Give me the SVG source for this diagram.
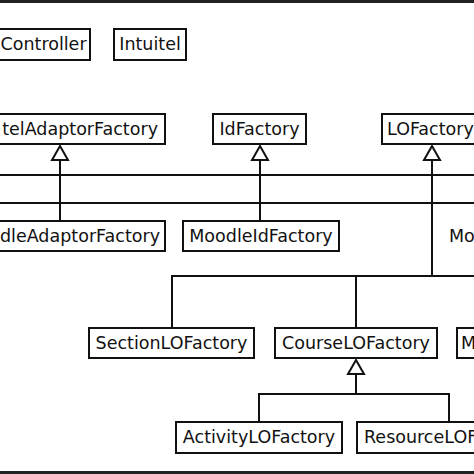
<svg xmlns="http://www.w3.org/2000/svg" width="474" height="474" viewBox="0 0 474 474">
<style>
.box{fill:#fff;stroke:#111;stroke-width:2}
.t{font-family:"DejaVu Sans",sans-serif;font-size:17.5px;fill:#111}
.c{text-anchor:middle}
.e{text-anchor:end}
.ln{fill:none;stroke:#111;stroke-width:2}
.tri{fill:#fff;stroke:#111;stroke-width:2}
</style>
<rect width="474" height="474" fill="#fff"/>
<rect x="0" y="0" width="474" height="3" fill="#222"/>
<rect x="0" y="471" width="474" height="3" fill="#222"/>
<g id="connectors">
<line class="ln" x1="0" y1="175" x2="474" y2="175"/>
<line class="ln" x1="0" y1="203" x2="474" y2="203"/>
<line class="ln" x1="60" y1="160" x2="60" y2="221"/>
<line class="ln" x1="260" y1="160" x2="260" y2="221"/>
<line class="ln" x1="432" y1="160" x2="432" y2="276"/>
<polyline class="ln" points="172,328 172,276 474,276"/>
<line class="ln" x1="356" y1="276" x2="356" y2="328"/>
<line class="ln" x1="356" y1="374" x2="356" y2="394"/>
<polyline class="ln" points="259,422 259,394 449,394 449,422"/>
<polygon class="tri" points="60,146 52,160 68,160"/>
<polygon class="tri" points="260,146 252,160 268,160"/>
<polygon class="tri" points="432,146 424,160 440,160"/>
<polygon class="tri" points="356,360 348,374 364,374"/>
</g>
<g id="controller"><rect class="box" x="-10" y="29" width="100" height="31"/><text class="t" x="0.5" y="50">Controller</text></g>
<g id="intuitel"><rect class="box" x="114" y="29" width="72" height="31"/><text class="t c" x="150" y="50">Intuitel</text></g>
<g id="intuiteladaptorfactory"><rect class="box" x="-10" y="114" width="175" height="30"/><text class="t e" x="158" y="135">telAdaptorFactory</text></g>
<g id="idfactory"><rect class="box" x="213" y="114" width="93" height="30"/><text class="t c" x="259.5" y="135">IdFactory</text></g>
<g id="lofactory"><rect class="box" x="382" y="114" width="110" height="30"/><text class="t" x="387" y="135">LOFactory</text></g>
<g id="moodleadaptorfactory"><rect class="box" x="-10" y="221" width="175" height="30"/><text class="t e" x="160" y="242">dleAdaptorFactory</text></g>
<g id="moodleidfactory"><rect class="box" x="183" y="221" width="156" height="30"/><text class="t c" x="261" y="242">MoodleIdFactory</text></g>
<g id="mo"><text class="t" x="449" y="242">Mo</text></g>
<g id="sectionlofactory"><rect class="box" x="89" y="328" width="165" height="30"/><text class="t c" x="171.5" y="349">SectionLOFactory</text></g>
<g id="courselofactory"><rect class="box" x="275" y="328" width="162" height="30"/><text class="t c" x="356" y="349">CourseLOFactory</text></g>
<g id="m"><rect class="box" x="457" y="328" width="40" height="30"/><text class="t" x="461" y="349">M</text></g>
<g id="activitylofactory"><rect class="box" x="176" y="422" width="166" height="31"/><text class="t c" x="259" y="443">ActivityLOFactory</text></g>
<g id="resourcelofactory"><rect class="box" x="357" y="422" width="140" height="31"/><text class="t" x="364" y="443">ResourceLOF</text></g>
</svg>
